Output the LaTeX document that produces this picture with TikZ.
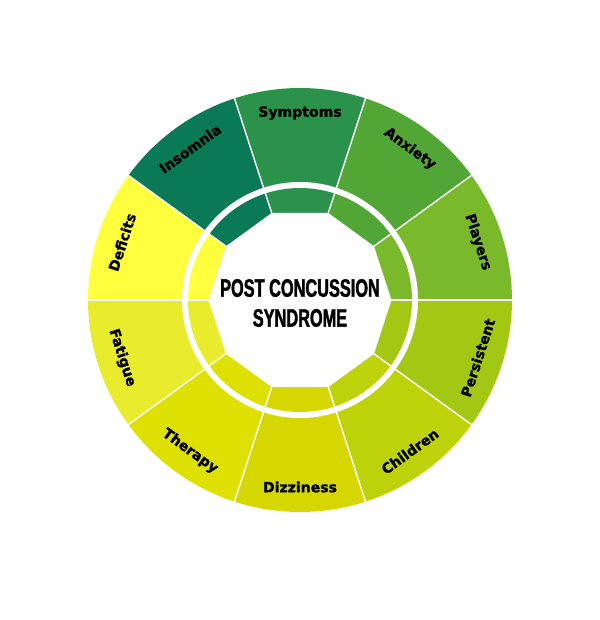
\documentclass[tikz,border=0pt]{standalone}
\usepackage{fontspec}
\setmainfont{DejaVu Sans}[BoldFeatures={FakeBold=1.2}]
\newfontfamily\narrowfont[FakeStretch=0.65,BoldFeatures={FakeBold=1.6}]{Liberation Sans}
\usepackage{tikz}
\definecolor{cInsomnia}{HTML}{0A7A56}
\definecolor{cSymptoms}{HTML}{2B924B}
\definecolor{cAnxiety}{HTML}{52A636}
\definecolor{cPlayers}{HTML}{7AB929}
\definecolor{cPersistent}{HTML}{A2C814}
\definecolor{cChildren}{HTML}{BED20A}
\definecolor{cDizziness}{HTML}{D6D700}
\definecolor{cTherapy}{HTML}{DEE100}
\definecolor{cFatigue}{HTML}{E9EC2C}
\definecolor{cDeficits}{HTML}{FFFF3E}

\begin{document}
\begin{tikzpicture}[
  lbl/.style={font=\bfseries\fontsize{8}{9}\selectfont, text=black},
  sep/.style={white, line width=0.8pt}
]
\useasboundingbox (-6,-6.4) rectangle (6,6);

% outer sectors
\foreach \a/\col in {90/cSymptoms,54/cAnxiety,18/cPlayers,-18/cPersistent,-54/cChildren,-90/cDizziness,-126/cTherapy,-162/cFatigue,162/cDeficits,126/cInsomnia}
  {\fill [\col] (0,0) -- (\a-18:4.24) arc (\a-18:\a+18:4.24) -- cycle;}

\fill [white] (0,0) circle (2.36);

% inner sectors
\foreach \a/\col in {90/cSymptoms,54/cAnxiety,18/cPlayers,-18/cPersistent,-54/cChildren,-90/cDizziness,-126/cTherapy,-162/cFatigue,162/cDeficits,126/cInsomnia}
  {\fill [\col] (0,0) -- (\a-18:2.24) arc (\a-18:\a+18:2.24) -- cycle;}

% white decagon in the middle
\fill [white] (0:1.83) \foreach \t in {36,72,...,324} {-- (\t:1.83)} -- cycle;

\foreach \t in {0,36,...,324} {\draw [sep] (\t:1.8) -- (\t:4.26);}

\node [lbl] (symptoms) at (90:3.74) {Symptoms};
\node [lbl, rotate=-36] (anxiety) at (54:3.74) {Anxiety};
\node [lbl, rotate=-72] (players) at (18:3.74) {Players};
\node [lbl, rotate=72] (persistent) at (-18:3.74) {Persistent};
\node [lbl, rotate=36] (children) at (-54:3.74) {Children};
\node [lbl] (dizziness) at (-90:3.74) {Dizziness};
\node [lbl, rotate=-36] (therapy) at (-126:3.74) {Therapy};
\node [lbl, rotate=-72] (fatigue) at (-162:3.74) {Fatigue};
\node [lbl, rotate=72] (deficits) at (162:3.74) {Deficits};
\node [lbl, rotate=36] (insomnia) at (126:3.74) {Insomnia};

\node [align=center, font=\narrowfont\bfseries\fontsize{14.3}{17}\selectfont] (title) at (0,-0.06) {POST CONCUSSION\\SYNDROME};

\end{tikzpicture}
\end{document}
